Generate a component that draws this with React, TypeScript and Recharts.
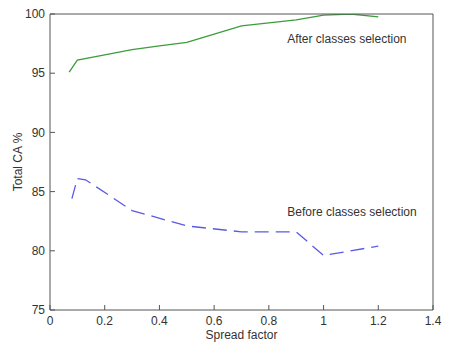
import { LineChart, Line, XAxis, YAxis, ReferenceDot } from 'recharts'

// Spread factor (x) and Total CA % (y)
const afterX = [0.07, 0.1, 0.2, 0.3, 0.4, 0.5, 0.6, 0.7, 0.8, 0.9, 1.0, 1.1, 1.2]
const afterY = [95.1, 96.1, 96.55, 97.0, 97.3, 97.6, 98.3, 99.0, 99.25, 99.5, 99.9, 100, 99.75]

const beforeX = [0.08, 0.1, 0.13, 0.3, 0.5, 0.7, 0.9, 1.0, 1.2]
const beforeY = [84.4, 86.1, 86.0, 83.4, 82.1, 81.6, 81.6, 79.6, 80.4]

const xTicks = [0, 0.2, 0.4, 0.6, 0.8, 1, 1.2, 1.4]
const yTicks = [75, 80, 85, 90, 95, 100]

const afterData = afterX.map((x, i) => ({ x, y: afterY[i] }))
const beforeData = beforeX.map((x, i) => ({ x, y: beforeY[i] }))

const font = 'Liberation Sans, Arial, sans-serif'
const axisColor = '#555'
const tickStyle = { fill: '#333', fontSize: 12, fontFamily: font }
const noteStyle = { position: 'center' as const, fill: '#333', fontSize: 12, fontFamily: font }

export default function App() {
  return (
    <div style={{ position: 'absolute', left: 0, top: 0, background: '#fff' }}>
      <LineChart width={474} height={352} margin={{ top: 13, right: 40, left: 0, bottom: 0 }}>
        <XAxis
          dataKey="x"
          type="number"
          domain={[0, 1.4]}
          ticks={xTicks}
          height={42}
          stroke={axisColor}
          tickSize={-5}
          tickMargin={11}
          tick={tickStyle}
          allowDataOverflow
          label={{ value: 'Spread factor', position: 'center', dy: 4, fill: '#333', fontSize: 12, fontFamily: font }}
        />
        {/* top and right frame with inward ticks, no labels */}
        <XAxis
          xAxisId="top"
          orientation="top"
          type="number"
          domain={[0, 1.4]}
          ticks={xTicks}
          height={1}
          stroke={axisColor}
          tickSize={-5}
          tick={false}
          allowDataOverflow
        />
        <YAxis
          type="number"
          domain={[75, 100]}
          ticks={yTicks}
          width={50}
          stroke={axisColor}
          tickSize={-5}
          tickMargin={10}
          tick={tickStyle}
          allowDataOverflow
          label={{ value: 'Total CA %', angle: -90, position: 'center', dx: -7, fill: '#333', fontSize: 12, fontFamily: font }}
        />
        <YAxis
          yAxisId="right"
          orientation="right"
          type="number"
          domain={[75, 100]}
          ticks={yTicks}
          width={1}
          stroke={axisColor}
          tickSize={-5}
          tick={false}
          allowDataOverflow
        />
        <Line
          data={afterData}
          dataKey="y"
          type="linear"
          stroke="#3c9c3c"
          strokeWidth={1.3}
          dot={false}
          isAnimationActive={false}
        />
        <Line
          data={beforeData}
          dataKey="y"
          type="linear"
          stroke="#5a5ae6"
          strokeWidth={1.3}
          strokeDasharray="14 7"
          dot={false}
          isAnimationActive={false}
        />
        <ReferenceDot x={1.085} y={97.9} r={0} label={{ value: 'After classes selection', ...noteStyle }} />
        <ReferenceDot x={1.104} y={83.3} r={0} label={{ value: 'Before classes selection', ...noteStyle }} />
      </LineChart>
    </div>
  )
}
